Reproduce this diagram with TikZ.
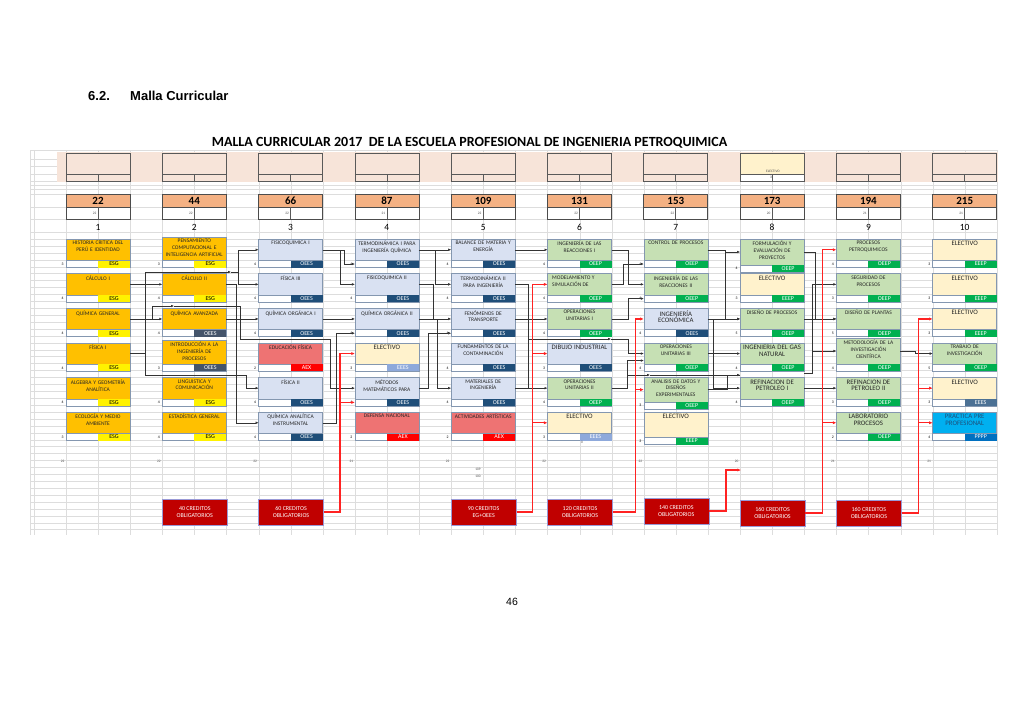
\documentclass[tikz,border=0pt]{standalone}
\usepackage{fontspec}
\setmainfont{Carlito}
\newfontfamily\arialf{Liberation Sans}
\usetikzlibrary{arrows.meta,calc}
\definecolor{corange}{HTML}{FFC000}
\definecolor{clblue}{HTML}{D9E1F2}
\definecolor{cgreen}{HTML}{C6E0B4}
\definecolor{cred}{HTML}{EE7373}
\definecolor{ccream}{HTML}{FFF2CC}
\definecolor{ccyan}{HTML}{00B0F0}
\definecolor{cdblue}{HTML}{1F4E79}
\definecolor{cslate}{HTML}{44546A}
\definecolor{cgk}{HTML}{00B050}
\definecolor{clbk}{HTML}{8EA9DB}
\definecolor{cpblue}{HTML}{0070C0}
\definecolor{bordc}{HTML}{8497B0}
\definecolor{cband}{HTML}{F7E4D9}
\definecolor{chead}{HTML}{F4B183}
\definecolor{cgrid}{HTML}{DDDDDD}
\definecolor{ccred}{HTML}{C00000}
\definecolor{credl}{HTML}{FF2222}
\newcommand\bigt{\fontsize{6.8}{7.8}\selectfont}
\gdef\xt{0}\gdef\xb{0}
\newcommand\crs[8]{%
  \pgfmathsetmacro\cxl{66+(#2-1)*96.3}%
  \pgfmathsetmacro\cyt{239+(#3-1)*34.6-\xt}%
  \pgfmathsetmacro\cyb{239+(#3-1)*34.6+21.5+\xb}%
  \pgfmathsetmacro\chh{\cyb-\cyt}%
  \node[cbox,#5,minimum height=\chh,anchor=north west] (#1) at (\cxl,\cyt) {};%
  \node[ctxt,anchor=north] (#1t) at (\cxl+32,\cyt+2) {#4};%
  \node[crow,anchor=north west] (#1c) at (\cxl,\cyb) {};%
  \node[ccode,#7,anchor=north west] (#1k) at (\cxl+32,\cyb) {#6};%
  \node[cnum] (#1n) at (\cxl-3.5,\cyb+3.6) {#8};%
  \gdef\xt{0}\gdef\xb{0}}
\tikzset{
  cbox/.style={draw=bordc,line width=0.5pt,minimum width=64,inner sep=0pt,outer sep=0pt},
  og/.style={fill=corange}, lb/.style={fill=clblue}, gr/.style={fill=cgreen},
  rd/.style={fill=cred}, cr/.style={fill=ccream}, cy/.style={fill=ccyan},
  ctxt/.style={font=\fontsize{5.5}{6.8}\selectfont,text width=63,align=center,inner sep=0pt,text=black!85},
  crow/.style={draw=bordc,line width=0.5pt,fill=white,minimum width=64,minimum height=7,inner sep=0pt,outer sep=0pt},
  ccode/.style={minimum width=32,minimum height=7,inner sep=0pt,outer sep=0pt,font=\fontsize{6}{6.5}\selectfont},
  kesg/.style={fill=yellow,text=black}, koees/.style={fill=cdblue,text=white},
  koeesb/.style={fill=cslate,text=white}, koeep/.style={fill=cgk,text=white},
  kaex/.style={fill=red,text=white}, keesl/.style={fill=clbk,text=white},
  keesd/.style={fill=cdblue!80!white,text=white},
  keeep/.style={fill=cgk,text=white}, kpppp/.style={fill=cpblue,text=white},
  cnum/.style={font=\fontsize{3.8}{4}\selectfont,inner sep=0pt},
  gridl/.style={draw=cgrid,line width=0.35pt},
  hdr/.style={draw=black!65,line width=0.7pt},
  numbox/.style={fill=chead,draw=black!70,line width=0.7pt,minimum width=64,minimum height=13,inner sep=0pt,font=\bfseries\fontsize{11}{12}\selectfont},
  subbox/.style={fill=white,draw=black!70,line width=0.7pt,minimum width=64,minimum height=12,inner sep=0pt},
  tinyt/.style={font=\fontsize{3.5}{4}\selectfont,text=black!70,inner sep=0pt},
  colnum/.style={font=\fontsize{9.5}{10}\selectfont,inner sep=0pt},
  credbox/.style={fill=ccred,draw=black!40!blue!40,line width=0.6pt,minimum width=65,minimum height=26,inner sep=0pt,text=white,align=center,font=\fontsize{6}{7.2}\selectfont},
  conn/.style={draw=black!80,line width=0.5pt,-{Latex[length=3pt,width=2.6pt]}},
  ln/.style={draw=black!80,line width=0.5pt},
  rconn/.style={draw=credl,line width=1.3pt,-{Latex[length=3.6pt,width=3.2pt]}},
}
\begin{document}
\begin{tikzpicture}[x=1pt,y=-1pt]
\useasboundingbox (0,0) rectangle (1024,724);
\fill[white] (0,0) rectangle (1024,724);
% headings
\node[font=\arialf\bfseries\fontsize{13}{15}\selectfont,anchor=west,inner sep=0pt] (sec) at (88,96) {6.2.};
\node[font=\arialf\bfseries\fontsize{13}{15}\selectfont,anchor=west,inner sep=0pt] (sect) at (130,96) {Malla Curricular};
\node[font=\bfseries\fontsize{14}{16}\selectfont,inner sep=0pt] (title) at (469.5,143) {MALLA CURRICULAR 2017\ \ DE LA ESCUELA PROFESIONAL DE INGENIERIA PETROQUIMICA};
\node[font=\arialf\fontsize{10.5}{12}\selectfont,inner sep=0pt] (page) at (512,602) {46};
% grid
\foreach \k in {0,...,30} \draw[gridl] ({34+32.1*\k},150) -- ({34+32.1*\k},535);
\draw[gridl] (30,150) -- (30,535);
\foreach \yy in {150,159,166,174,181,185,189,194,207,219,232} \draw[gridl] (30,\yy) -- (998,\yy);
\foreach \k in {0,...,42} \draw[gridl] (30,{239+6.92*\k}) -- (998,{239+6.92*\k});
% band
\fill[cband] (57,152) rectangle (998,182);
\fill[ccream] (740.1,153) rectangle (804.1,174);
\fill[white] (740.1,174) rectangle (804.1,181);
\foreach \ci/\bn/\sn in {1/22/22,2/44/22,3/66/22,4/87/21,5/109/22,6/131/22,7/153/22,8/173/20,9/194/21,10/215/21}{
  \pgfmathsetmacro\hx{66+(\ci-1)*96.3}
  \node[hdr,minimum width=64,minimum height=28,inner sep=0pt] (hd\ci) at (\hx+32,167) {};
  \draw[hdr] (\hx,174) -- ++(64,0);
  \draw[hdr] (\hx+32,174) -- ++(0,7);
  \node[numbox] (nb\ci) at (\hx+32,200.5) {\bn};
  \node[subbox] (sb\ci) at (\hx+32,213) {};
  \draw[hdr] (\hx+32,207) -- (\hx+32,219);
  \node[tinyt,anchor=east] (sn\ci) at (\hx+30.5,213.5) {\sn};
  \node[colnum] (cn\ci) at (\hx+32,227) {\ci};
}
\node[tinyt] (hel) at (773,171) {ELECTIVO};
\node[tinyt,anchor=east] (hel3) at (772,177.5) {3};
% bottom totals
\foreach \ci/\tv in {1/22,2/22,3/22,4/21,5/22,6/22,7/22,8/20,9/21,10/21}{
  \node[tinyt,anchor=east] (tt\ci) at ({66+(\ci-1)*96.3-1.5},461) {\tv};
}
\node[tinyt] (t109) at (478,469) {109};
\node[tinyt] (t100) at (478,476) {100};
% courses col 1
\crs{hc}{1}{1}{HISTORIA CRITICA DEL\\PERÚ E IDENTIDAD}{og}{ESG}{kesg}{3}
\crs{ca}{1}{2}{CÁLCULO I}{og}{ESG}{kesg}{4}
\crs{qg}{1}{3}{QUÍMICA GENERAL}{og}{ESG}{kesg}{4}
\crs{fa}{1}{4}{FÍSICA I}{og}{ESG}{kesg}{4}
\crs{ag}{1}{5}{ALGEBRA Y GEOMETRÍA\\ANALÍTICA}{og}{ESG}{kesg}{4}
\crs{eco}{1}{6}{ECOLOGÍA Y MEDIO\\AMBIENTE}{og}{ESG}{kesg}{3}
% col 2
\gdef\xt{2}\crs{pc}{2}{1}{PENSAMIENTO\\COMPUTACIONAL E\\INTELIGENCIA ARTIFICIAL}{og}{ESG}{kesg}{3}
\crs{cb}{2}{2}{CÁLCULO II}{og}{ESG}{kesg}{4}
\crs{qa}{2}{3}{QUÍMICA AVANZADA}{og}{OEES}{koeesb}{4}
\gdef\xt{3}\crs{ip}{2}{4}{INTRODUCCIÓN A LA\\INGENIERÍA DE\\PROCESOS}{og}{OEES}{koeesb}{3}
\crs{lc}{2}{5}{LINGUISTICA Y\\COMUNICACIÓN}{og}{ESG}{kesg}{4}
\crs{eg}{2}{6}{ESTADÍSTICA GENERAL}{og}{ESG}{kesg}{4}
% col 3
\crs{fqa}{3}{1}{FISICOQUIMICA I}{lb}{OEES}{koees}{4}
\crs{fc3}{3}{2}{FÍSICA III}{lb}{OEES}{koees}{4}
\crs{qoa}{3}{3}{QUÍMICA ORGÁNICA I}{lb}{OEES}{koees}{4}
\crs{ef}{3}{4}{EDUCACIÓN FÍSICA}{rd}{AEX}{kaex}{2}
\crs{fb}{3}{5}{FÍSICA II}{lb}{OEES}{koees}{4}
\crs{qai}{3}{6}{QUÍMICA ANALÍTICA\\INSTRUMENTAL}{lb}{OEES}{koees}{4}
% col 4
\crs{ta}{4}{1}{TERMODINÁMICA I PARA\\INGENIERÍA QUÍMICA}{lb}{OEES}{koees}{4}
\crs{fqb}{4}{2}{FISICOQUIMICA II}{lb}{OEES}{koees}{4}
\crs{qob}{4}{3}{QUÍMICA ORGÁNICA II}{lb}{OEES}{koees}{4}
\crs{elc}{4}{4}{\bigt ELECTIVO}{cr}{EEES}{keesl}{3}
\crs{mm}{4}{5}{MÉTODOS\\MATEMÁTICOS PARA}{lb}{OEES}{koees}{4}
\crs{dn}{4}{6}{DEFENSA NACIONAL}{rd}{AEX}{kaex}{2}
% col 5
\crs{bm}{5}{1}{BALANCE DE MATERIA Y\\ENERGÍA}{lb}{OEES}{koees}{4}
\crs{tb}{5}{2}{TERMODINÁMICA II\\PARA INGENIERÍA}{lb}{OEES}{koees}{4}
\crs{ft}{5}{3}{FENÓMENOS DE\\TRANSPORTE}{lb}{OEES}{koees}{4}
\crs{fco}{5}{4}{FUNDAMENTOS DE LA\\CONTAMINACIÓN}{lb}{OEES}{koees}{4}
\crs{mi}{5}{5}{MATERIALES DE\\INGENIERÍA}{lb}{OEES}{koees}{4}
\crs{aa}{5}{6}{ACTIVIDADES ARTÍSTICAS}{rd}{AEX}{kaex}{2}
% col 6
\crs{ira}{6}{1}{INGENIERÍA DE LAS\\REACCIONES I}{gr}{OEEP}{koeep}{4}
\crs{ms}{6}{2}{}{gr}{OEEP}{koeep}{4}
\node[ctxt,text width=,align=left,anchor=north west] (msx) at (552,275.6) {MODELAMIENTO Y\\SIMULACIÓN DE};
\crs{oua}{6}{3}{OPERACIONES\\UNITARIAS I}{gr}{OEEP}{koeep}{4}
\crs{di}{6}{4}{\bigt DIBUJO INDUSTRIAL}{lb}{OEES}{koees}{3}
\crs{oub}{6}{5}{OPERACIONES\\UNITARIAS II}{gr}{OEEP}{koeep}{4}
\crs{els}{6}{6}{\bigt ELECTIVO}{cr}{EEES}{keesl}{3}
\node[tinyt] (zero6) at (582,442) {0};
% col 7
\crs{cp}{7}{1}{CONTROL DE PROCESOS}{gr}{OEEP}{koeep}{4}
\crs{irb}{7}{2}{INGENIERÍA DE LAS\\REACCIONES II}{gr}{OEEP}{koeep}{4}
\crs{ie}{7}{3}{\bigt INGENIERÍA\\ECONÓMICA}{lb}{OEES}{koees}{4}
\crs{ouc}{7}{4}{OPERACIONES\\UNITARIAS III}{gr}{OEEP}{koeep}{4}
\gdef\xb{3}\crs{ad}{7}{5}{ANALISIS DE DATOS Y\\DISEÑOS\\EXPERIMENTALES}{gr}{OEEP}{koeep}{3}
\gdef\xb{4}\crs{el7}{7}{6}{\bigt ELECTIVO}{cr}{EEEP}{keeep}{3}
% col 8
\gdef\xb{4.5}\crs{fe}{8}{1}{FORMULACIÓN Y\\EVALUACIÓN DE\\PROYECTOS}{gr}{OEEP}{koeep}{4}
\crs{el8}{8}{2}{\bigt ELECTIVO}{cr}{EEEP}{keeep}{3}
\crs{dp}{8}{3}{DISEÑO DE PROCESOS}{gr}{OEEP}{koeep}{5}
\crs{ig}{8}{4}{\bigt INGENIERIA DEL GAS\\NATURAL}{gr}{OEEP}{koeep}{4}
\crs{rpa}{8}{5}{\bigt REFINACION DE\\PETROLEO I}{gr}{OEEP}{koeep}{4}
% col 9
\crs{pp}{9}{1}{PROCESOS\\PETROQUIMICOS}{gr}{OEEP}{koeep}{4}
\crs{sp}{9}{2}{SEGURIDAD DE\\PROCESOS}{gr}{OEEP}{koeep}{3}
\crs{dpl}{9}{3}{DISEÑO DE PLANTAS}{gr}{OEEP}{koeep}{5}
\gdef\xt{5}\crs{mic}{9}{4}{METODOLOGÍA DE LA\\INVESTIGACIÓN\\CIENTÍFICA}{gr}{OEEP}{koeep}{4}
\crs{rpb}{9}{5}{\bigt REFINACION DE\\PETROLEO II}{gr}{OEEP}{koeep}{3}
\crs{lp}{9}{6}{\bigt LABORATORIO\\PROCESOS}{gr}{OEEP}{koeep}{2}
% col 10
\crs{ea}{10}{1}{\bigt ELECTIVO}{cr}{EEEP}{keeep}{3}
\crs{eb}{10}{2}{\bigt ELECTIVO}{cr}{EEEP}{keeep}{3}
\crs{ec}{10}{3}{\bigt ELECTIVO}{cr}{EEEP}{keeep}{3}
\crs{ti}{10}{4}{TRABAJO DE\\INVESTIGACIÓN}{gr}{OEEP}{koeep}{5}
\crs{ee}{10}{5}{\bigt ELECTIVO}{cr}{EEES}{keesd}{3}
\crs{ppp}{10}{6}{\bigt\textcolor{cdblue}{PRACTICA PRE}\\\textcolor{cdblue}{PROFESIONAL}}{cy}{PPPP}{kpppp}{4}
% credit boxes
\node[credbox] (k40) at (194.8,512) {40 CREDITOS\\OBLIGATORIOS};
\node[credbox] (k60) at (291.1,512) {60 CREDITOS\\OBLIGATORIOS};
\node[credbox] (k90) at (483.7,512) {90 CREDITOS\\EG+OEES};
\node[credbox] (k120) at (580,512) {120 CREDITOS\\OBLIGATORIOS};
\node[credbox] (k140) at (676.3,511) {140 CREDITOS\\OBLIGATORIOS};
\node[credbox] (k160a) at (772.6,513) {160 CREDITOS\\OBLIGATORIOS};
\node[credbox] (k160b) at (868.9,513) {160 CREDITOS\\OBLIGATORIOS};
% black connectors col1-col3
\coordinate (ja) at (152,306);
\coordinate (jb) at (174,306);
\coordinate (jf) at (145,272);
\coordinate (jg) at (145,375);
\coordinate (jh) at (231,272);
\coordinate (ji) at (238,272);
\draw[conn] (ca.east) -- (cb.west);
\draw[conn] (qg.east) -- (qa.west);
\draw[conn] ([xshift=22]qg.east) |- (jb);
\draw[conn] (jb) -- (240,306) -- (240,339) -- (330,339) |- (mm.west);
\draw[ln] (fa.east) -- ++(15,0);
\draw[ln] (jf) -- (jg);
\draw[conn] (jf) -- (jh);
\draw[ln] (jh) -- (ji);
\draw[conn] (ji) |- (fqa.west);
\draw[conn] (ji) |- (fc3.west);
\draw[conn] (jg) -- (246,375) |- (fb.west);
\draw[conn] (cb.east) -- ++(9.7,0) |- (qai.west);
\draw[conn] (qa.east) -- (qoa.west);
% col3-col4
\draw[conn] (fqa.east) -- ++(17.4,0) |- (fqb.west);
\draw[conn] (fqa.east) -- ++(21.4,0) |- (tac.west);
\draw[conn] (qoa.east) -- (qob.west);
\draw[conn] (qai.east) -- ++(13.4,0) |- (qobc.west);
% col4-col5
\draw[conn] (ta.east) -- (bm.west);
\draw[conn] (ta.east) -- ++(16,0) |- (tb.west);
\draw[conn] (fqb.east) -- ++(14,0) |- (ft.west);
\draw[conn] (qob.east) -- ++(18,0) |- (mi.west);
\draw[conn] (mm.east) -- ++(9,0) |- (ftc.west);
% col5-col6
\coordinate (jk) at (528,339);
\coordinate (jl) at (611,339);
\draw[conn] (bm.east) -- (ira.west);
\draw[conn] (ft.east) -- (oua.west);
\draw[conn] (tb.east) -- ++(13,0) |- (oub.west);
\draw[ln] (mi.east) -- ++(13,0);
\draw[conn] (jk) -- (jl);
\draw[conn] (jl) -- (628,339) |- (ouc.west);
% col6-col7
\coordinate (jm) at (627,375);
\coordinate (jn) at (650,375);
\coordinate (jo) at (740,375);
\draw[conn] (ira.east) -- ++(16.5,0) |- (irb.west);
\draw[conn] (ms.east) -- ++(11.5,0) |- (cpc.west);
\draw[conn] (oua.east) -- ++(16.5,0) |- (irbc.west);
\draw[conn] (oub.east) -- ++(15.5,0) |- ([yshift=-7]ouc.west);
\draw[conn] (jm) -- (jn);
\draw[conn] (jn) -- (jo);
% col7-col8
\draw[conn] (cp.east) -- ++(17,0) |- (fe.west);
\draw[conn] (cp.east) -- ++(17,0) |- (dp.west);
\draw[conn] (ie.east) -- (dp.west);
\draw[conn] (ie.east) -- ++(5.5,0) |- (rpa.west);
\draw[conn] (ouc.east) -- (ig.west);
\draw[ln] (ad.east) -- ++(19,0) |- (jo);
% col8-col9
\draw[conn] (fe.east) -- ++(11,0) |- (dpl.west);
\draw[conn] (dp.east) -- (dpl.west);
\draw[conn] ([yshift=-2]igc.south east) -- ++(8,0) |- (sp.west);
\draw[conn] ([yshift=-2]igc.south east) -- ++(8,0) |- (mic.west);
\draw[conn] (rpa.east) -- (rpb.west);
% col9-col10
\draw[conn] (mic.east) -- ++(15,0) |- (ti.west);
% red connectors
\coordinate (r140) at (741,470);
\draw[rconn] (k60.east) -- ++(16,0) |- (elc.west);
\draw[rconn] (k60.east) -- ++(16,0) |- (mmc.west);
\draw[rconn] (k90.east) -- ++(16,0) |- (ms.west);
\draw[rconn] (k90.east) -- ++(16,0) |- (di.west);
\draw[rconn] (k90.east) -- ++(16,0) |- (els.west);
\draw[rconn] (k120.east) -- ++(22.5,0) |- (ie.west);
\draw[rconn] (k120.east) -- ++(22.5,0) |- (ad.west);
\draw[rconn] (k140.east) -- ++(17,0) |- (r140);
\draw[rconn] (k160a.east) -- ++(17,0) |- (pp.west);
\draw[rconn] (k160a.east) -- ++(17,0) |- (lp.west);
\draw[rconn] (k160b.east) -- ++(17,0) |- (ec.west);
\draw[rconn] (k160b.east) -- ++(17,0) |- (ee.west);
\draw[rconn] (k160b.east) -- ++(17,0) |- (ppp.west);
\end{tikzpicture}
\end{document}
